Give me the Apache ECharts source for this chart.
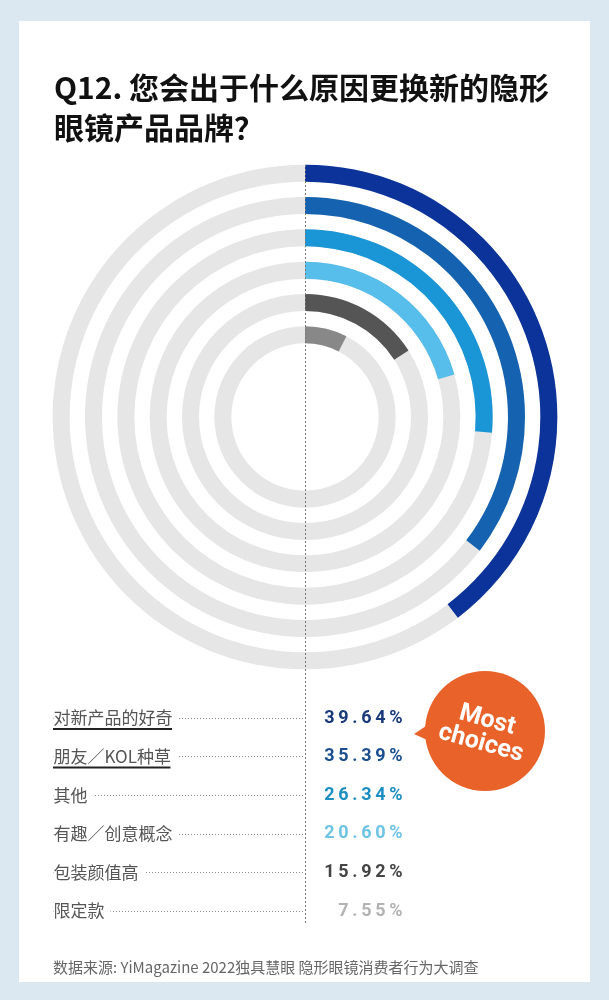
<!DOCTYPE html>
<html><head><meta charset="utf-8">
<script src="https://cdn.jsdelivr.net/npm/echarts@6/dist/echarts.min.js"></script>
<style>html,body{margin:0;padding:0;background:#dce8f1}#c{width:609px;height:1000px}</style>
</head><body><div id="c"></div>
<script>
// ---- data ----
const categories = ['对新产品的好奇', '朋友／KOL种草', '其他', '有趣／创意概念', '包装颜值高', '限定款'];
const values = [39.64, 35.39, 26.34, 20.60, 15.92, 7.55];
const barColors = ['#0b3399', '#1462b0', '#1a95d5', '#57bdea', '#555555', '#888888'];
const valueColors = ['#1b3a7a', '#1d4f8f', '#1d8ec2', '#6fc4e4', '#444444', '#b3b3b3'];
const underlined = [true, true, false, false, false, false];
const titleText = 'Q12. 您会出于什么原因更换新的隐形\n眼镜产品品牌？';
const sourceText = '数据来源: YiMagazine 2022独具慧眼 隐形眼镜消费者行为大调查';

const cjk = "'Noto Sans CJK SC', 'Noto Sans', sans-serif";
const numFont = "Roboto, 'Noto Sans', sans-serif";

function fmtPct(v) {
  return (v.toFixed(2) + '%').split('').join('\u2009');
}
function measure(text, font) {
  const c = document.createElement('canvas').getContext('2d');
  c.font = font;
  return c.measureText(text).width;
}

const chart = echarts.init(document.getElementById('c'), null, {renderer: 'canvas'});

const rowTop = 718, rowStep = 38.6;
const labelFontSize = 17;
const underlineGraphics = [];
categories.forEach((c, i) => {
  if (underlined[i]) {
    const w = measure(c, labelFontSize + 'px ' + cjk);
    underlineGraphics.push({
      type: 'rect', z: 100,
      shape: {x: 53, y: rowTop + i * rowStep + 10, width: w, height: 2},
      style: {fill: '#222'}
    });
  }
});

const option = {
  backgroundColor: '#dce8f1',
  animation: false,
  title: [{
    text: titleText, left: 54, top: 68, padding: 0,
    textStyle: {fontFamily: cjk, fontSize: 30, fontWeight: 'bold', color: '#111', lineHeight: 40}
  }, {
    text: sourceText, left: 53, top: 960, padding: 0,
    textStyle: {fontFamily: cjk, fontSize: 15, fontWeight: 'normal', color: '#666'}
  }],
  graphic: [
    {type: 'rect', z: -10, silent: true, shape: {x: 19, y: 21, width: 571, height: 961}, style: {fill: '#ffffff'}},
    {type: 'line', z: 50, shape: {x1: 305.5, y1: 165, x2: 305.5, y2: 925}, style: {stroke: '#777', lineWidth: 1, lineDash: [2, 2]}},
    ...underlineGraphics,
    {
      type: 'group', z: 60,
      children: [
        {type: 'polygon', shape: {points: [[414, 734], [432, 722], [436, 744]]}, style: {fill: '#e8622a'}},
        {type: 'circle', shape: {cx: 485, cy: 731, r: 60}, style: {fill: '#e8622a'}},
        {type: 'text', x: 484, y: 732, rotation: -0.27,
          style: {text: 'Most\nchoices', fill: '#fff', font: 'bold 25px ' + numFont, align: 'center', verticalAlign: 'middle', lineHeight: 24}}
      ]
    }
  ],
  polar: {center: [305, 417], radius: [66, 260]},
  angleAxis: {type: 'value', min: 0, max: 100, startAngle: 90, clockwise: true, show: false},
  radiusAxis: {type: 'category', data: categories, inverse: true, show: false},
  grid: [
    {left: 53, top: rowTop, width: 252, height: rowStep * 5},
    {left: 305, top: rowTop, width: 98, height: rowStep * 5}
  ],
  xAxis: [
    {gridIndex: 0, type: 'value', min: 0, max: 1, show: false},
    {gridIndex: 1, type: 'value', min: 0, max: 1, show: false}
  ],
  yAxis: [
    {gridIndex: 0, type: 'category', data: categories, inverse: true, boundaryGap: false,
      axisLine: {show: false}, axisTick: {show: false}, axisLabel: {show: false},
      splitLine: {show: true, lineStyle: {type: [1, 2], color: '#8a8a8a', width: 1}}},
    {gridIndex: 1, type: 'category', data: categories, inverse: true, boundaryGap: false, show: false}
  ],
  series: [
    {
      type: 'bar', coordinateSystem: 'polar', barWidth: 17,
      showBackground: true, backgroundStyle: {color: '#e6e6e6'},
      data: values.map((v, i) => ({value: v, itemStyle: {color: barColors[i]}})),
      z: 2
    },
    {
      type: 'scatter', xAxisIndex: 0, yAxisIndex: 0, symbolSize: 1,
      itemStyle: {color: 'rgba(0,0,0,0)', opacity: 1},
      data: categories.map(c => [0, c]),
      label: {
        show: true, position: 'right', distance: 0,
        formatter: p => p.value[1],
        fontFamily: cjk, fontSize: labelFontSize, color: '#555',
        backgroundColor: '#fff', padding: [2, 6, 2, 0]
      },
      z: 5
    },
    {
      type: 'scatter', xAxisIndex: 1, yAxisIndex: 1, symbolSize: 1,
      itemStyle: {color: 'rgba(0,0,0,0)', opacity: 1},
      data: categories.map((c, i) => ({value: [1, c], label: {color: valueColors[i]}})),
      label: {
        show: true, position: 'left', distance: 0,
        formatter: p => fmtPct(values[p.dataIndex]),
        fontFamily: numFont, fontSize: 18, fontWeight: 'bold'
      },
      z: 5
    }
  ]
};
chart.setOption(option);
</script>
</body></html>
